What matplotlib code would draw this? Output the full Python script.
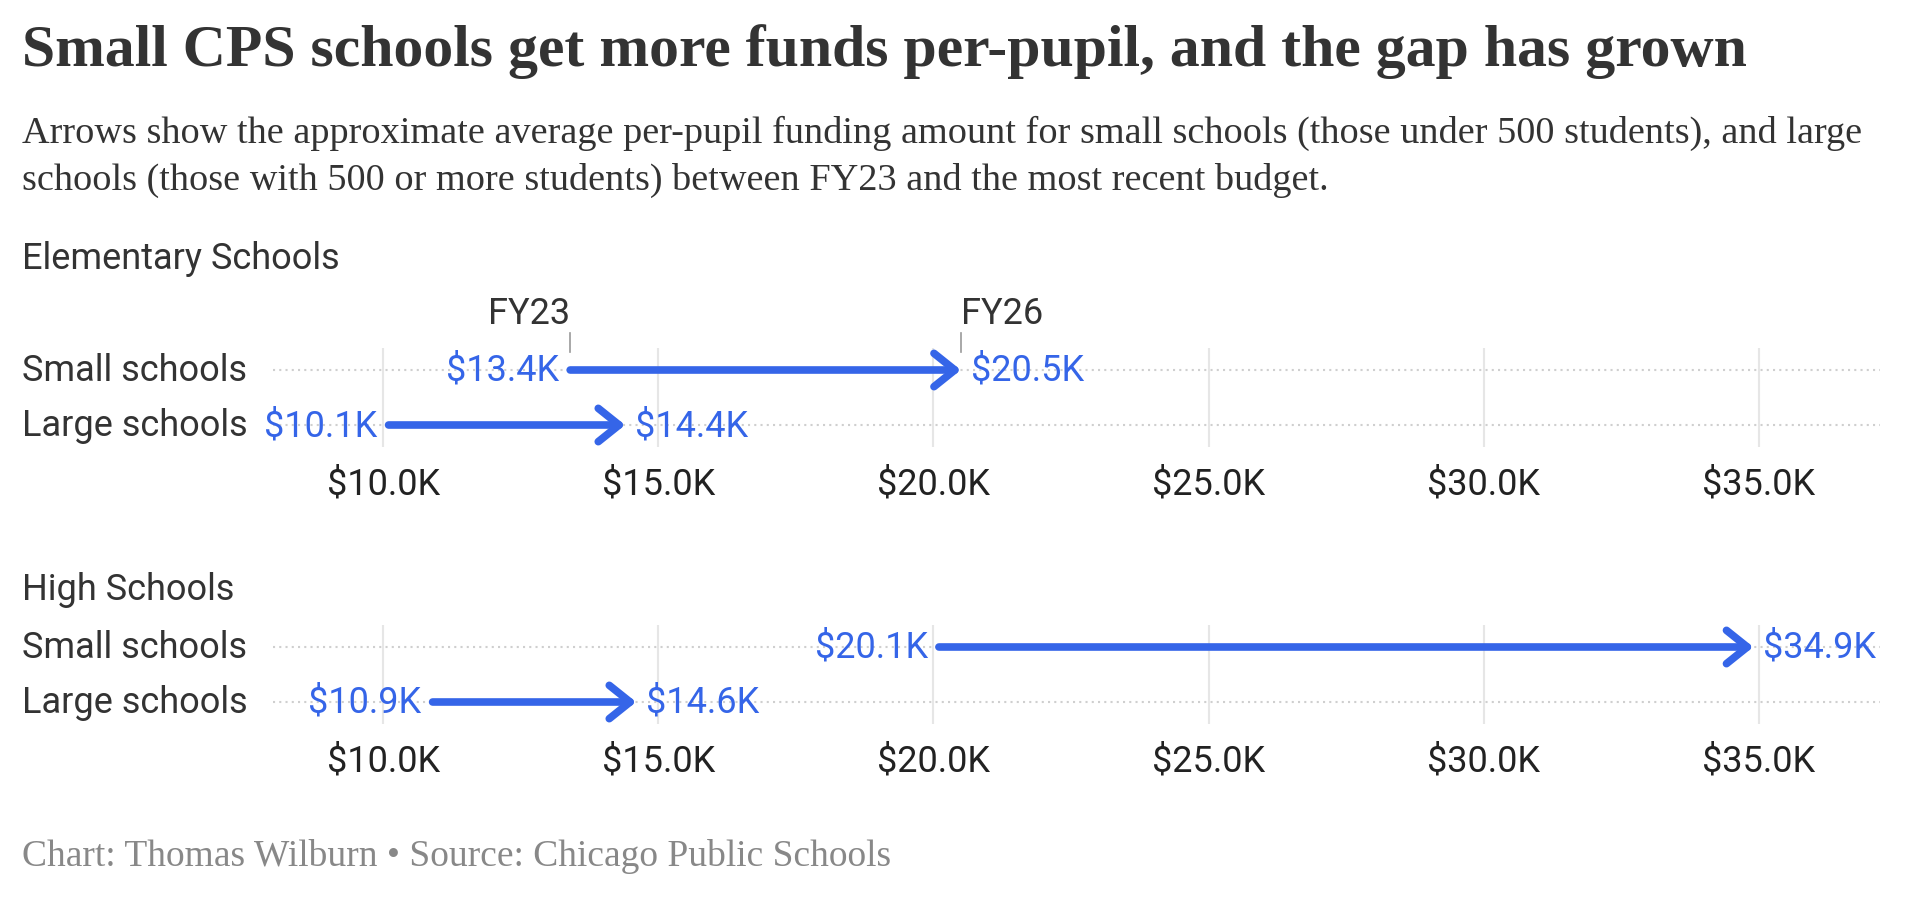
import matplotlib
matplotlib.use("Agg")
import matplotlib.pyplot as plt
from matplotlib.transforms import blended_transform_factory

# ---- data (thousands of dollars per pupil) ----
rows = ["Small schools", "Large schools"]
elem_fy23 = [13.4, 10.1]
elem_fy26 = [20.5, 14.4]
high_fy23 = [20.1, 10.9]
high_fy26 = [34.9, 14.6]
xticks = [10, 15, 20, 25, 30, 35]
xticklabels = ["$10.0K", "$15.0K", "$20.0K", "$25.0K", "$30.0K", "$35.0K"]

BLUE = "#3565e8"
DARK = "#333333"
SANS = ["Roboto", "DejaVu Sans"]
SERIF = ["Liberation Serif", "DejaVu Serif"]
FS = 26

W, H = 1920, 920
fig = plt.figure(figsize=(W / 100, H / 100), dpi=100)
fig.patch.set_facecolor("white")


def fx(px):
    return px / W


def fy(px):
    return 1 - px / H


# titles
fig.text(fx(22), fy(52), "Small CPS schools get more funds per-pupil, and the gap has grown",
         family=SERIF, fontweight="bold", fontsize=43, color=DARK, va="center", ha="left")
fig.text(fx(22), fy(133),
         "Arrows show the approximate average per-pupil funding amount for small schools "
         "(those under 500 students), and large",
         family=SERIF, fontsize=27.5, color=DARK, va="center", ha="left")
fig.text(fx(22), fy(180),
         "schools (those with 500 or more students) between FY23 and the most recent budget.",
         family=SERIF, fontsize=27.5, color=DARK, va="center", ha="left")
fig.text(fx(22), fy(857), "Chart: Thomas Wilburn \u2022 Source: Chicago Public Schools",
         family=SERIF, fontsize=27, color="#888888", va="center", ha="left")


def panel(top_px, title, title_y, starts, ends, fy_labels=False):
    ax = fig.add_axes([fx(273), fy(top_px + 99), fx(1880 - 273), 99 / H])
    ax.set_xlim(8.0, 37.2)
    ax.set_ylim(1.4, -0.4)
    for s in ax.spines.values():
        s.set_visible(False)
    ax.set_yticks([])
    ax.set_xticks(xticks)
    ax.set_xticklabels(xticklabels, family=SANS, fontsize=FS, color="#222222")
    ax.tick_params(axis="x", length=0, pad=13)
    ax.xaxis.grid(True, color="#e6e6e6", lw=1.5)
    ax.set_axisbelow(True)

    fig.text(fx(22), fy(title_y), title, family=SANS, fontsize=FS, color=DARK,
             va="center", ha="left")

    lbl_tr = blended_transform_factory(fig.transFigure, ax.transData)
    for i, name in enumerate(rows):
        ax.axhline(i, color="#cfcfcf", lw=1.5, ls=(0, (1, 2)), zorder=0)
        ax.text(fx(22), i, name, transform=lbl_tr, family=SANS, fontsize=FS,
                color=DARK, va="center", ha="left")
        ax.annotate("", xy=(ends[i], i), xytext=(starts[i], i),
                    arrowprops=dict(arrowstyle="->,head_length=15,head_width=12",
                                    mutation_scale=1, color=BLUE, lw=5.5,
                                    shrinkA=0, shrinkB=0,
                                    capstyle="round", joinstyle="round"))
        ax.annotate(f"${starts[i]:.1f}K", xy=(starts[i], i), xytext=(-8, 0),
                    textcoords="offset points", ha="right", va="center",
                    family=SANS, fontsize=FS, color=BLUE)
        ax.annotate(f"${ends[i]:.1f}K", xy=(ends[i], i), xytext=(7, 0),
                    textcoords="offset points", ha="left", va="center",
                    family=SANS, fontsize=FS, color=BLUE)

    if fy_labels:
        # little year markers over the first row
        for x, txt, ha in [(starts[0], "FY23", "right"), (ends[0], "FY26", "left")]:
            ax.plot([x, x], [-0.33, -0.68], color="#999999", lw=1.2, clip_on=False)
            ax.text(x, -1.04, txt, ha=ha, va="center", family=SANS, fontsize=FS,
                    color=DARK)
    return ax


panel(349, "Elementary Schools", 259, elem_fy23, elem_fy26, fy_labels=True)
panel(626, "High Schools", 590, high_fy23, high_fy26)

fig.savefig("out.png", dpi=100, facecolor="white")
